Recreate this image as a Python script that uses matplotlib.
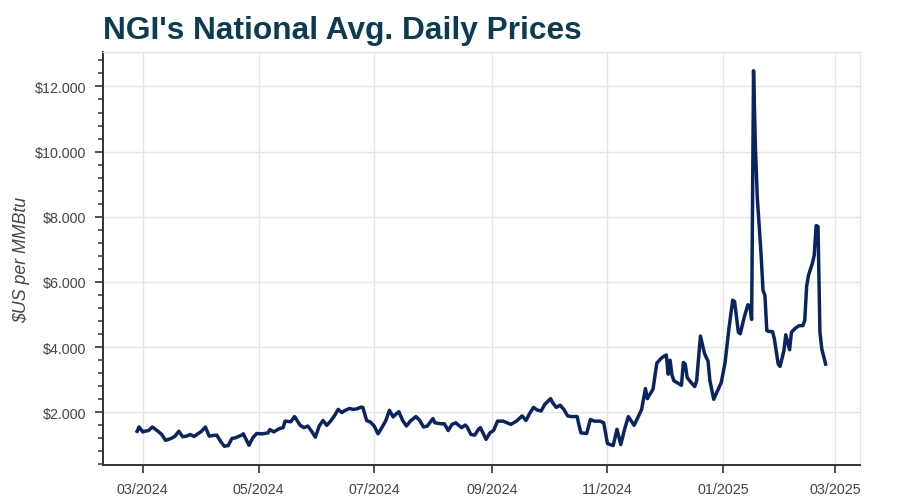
import matplotlib
matplotlib.use("Agg")
import matplotlib.pyplot as plt
import matplotlib.dates as mdates
from matplotlib.ticker import MultipleLocator, FuncFormatter
import pandas as pd

# daily national average
dates = [
    "2024-02-27", "2024-02-28", "2024-03-01", "2024-03-02", "2024-03-04", "2024-03-06",
    "2024-03-09", "2024-03-11", "2024-03-13", "2024-03-16", "2024-03-18", "2024-03-20",
    "2024-03-22", "2024-03-24", "2024-03-26", "2024-03-28", "2024-03-30", "2024-04-01",
    "2024-04-03", "2024-04-05", "2024-04-07", "2024-04-09", "2024-04-11", "2024-04-13",
    "2024-04-15", "2024-04-17", "2024-04-19", "2024-04-22", "2024-04-23", "2024-04-26",
    "2024-04-28", "2024-04-30", "2024-05-03", "2024-05-06", "2024-05-07", "2024-05-09",
    "2024-05-12", "2024-05-14", "2024-05-15", "2024-05-18", "2024-05-20", "2024-05-21",
    "2024-05-23", "2024-05-25", "2024-05-27", "2024-05-29", "2024-05-31", "2024-06-02",
    "2024-06-04", "2024-06-06", "2024-06-08", "2024-06-10", "2024-06-12", "2024-06-14",
    "2024-06-15", "2024-06-18", "2024-06-20", "2024-06-22", "2024-06-24", "2024-06-25",
    "2024-06-27", "2024-06-29", "2024-07-01", "2024-07-03", "2024-07-05", "2024-07-07",
    "2024-07-09", "2024-07-11", "2024-07-12", "2024-07-14", "2024-07-16", "2024-07-18",
    "2024-07-20", "2024-07-23", "2024-07-25", "2024-07-27", "2024-07-29", "2024-08-01",
    "2024-08-02", "2024-08-05", "2024-08-07", "2024-08-09", "2024-08-11", "2024-08-13",
    "2024-08-16", "2024-08-18", "2024-08-19", "2024-08-21", "2024-08-23", "2024-08-25",
    "2024-08-26", "2024-08-29", "2024-08-31", "2024-09-02", "2024-09-04", "2024-09-07",
    "2024-09-09", "2024-09-11", "2024-09-14", "2024-09-17", "2024-09-19", "2024-09-21",
    "2024-09-23", "2024-09-25", "2024-09-27", "2024-09-29", "2024-10-02", "2024-10-03",
    "2024-10-05", "2024-10-07", "2024-10-09", "2024-10-11", "2024-10-13", "2024-10-16",
    "2024-10-17", "2024-10-18", "2024-10-21", "2024-10-23", "2024-10-25", "2024-10-27",
    "2024-10-28", "2024-10-30", "2024-11-01", "2024-11-04", "2024-11-06", "2024-11-08",
    "2024-11-10", "2024-11-12", "2024-11-15", "2024-11-17", "2024-11-19", "2024-11-21",
    "2024-11-22", "2024-11-25", "2024-11-27", "2024-11-29", "2024-11-30", "2024-12-02",
    "2024-12-03", "2024-12-04", "2024-12-05", "2024-12-06", "2024-12-08", "2024-12-10",
    "2024-12-11", "2024-12-12", "2024-12-13", "2024-12-15", "2024-12-17", "2024-12-18",
    "2024-12-20", "2024-12-22", "2024-12-23", "2024-12-24", "2024-12-25", "2024-12-27",
    "2024-12-29", "2024-12-31", "2025-01-02", "2025-01-04", "2025-01-06", "2025-01-07",
    "2025-01-09", "2025-01-10", "2025-01-12", "2025-01-14", "2025-01-15", "2025-01-16",
    "2025-01-17", "2025-01-18", "2025-01-19", "2025-01-21", "2025-01-22", "2025-01-23",
    "2025-01-24", "2025-01-25", "2025-01-27", "2025-01-28", "2025-01-30", "2025-01-31",
    "2025-02-02", "2025-02-03", "2025-02-05", "2025-02-06", "2025-02-08", "2025-02-10",
    "2025-02-12", "2025-02-13", "2025-02-14", "2025-02-15", "2025-02-17", "2025-02-18",
    "2025-02-19", "2025-02-20", "2025-02-21", "2025-02-22", "2025-02-24",
]
prices = [
    1.42, 1.55, 1.40, 1.42, 1.44, 1.55,
    1.42, 1.32, 1.14, 1.20, 1.27, 1.42,
    1.25, 1.27, 1.32, 1.26, 1.34, 1.42,
    1.55, 1.27, 1.29, 1.30, 1.11, 0.96,
    0.98, 1.20, 1.22, 1.30, 1.34, 0.99,
    1.22, 1.35, 1.34, 1.37, 1.47, 1.40,
    1.50, 1.53, 1.73, 1.71, 1.87, 1.78,
    1.60, 1.53, 1.58, 1.42, 1.24, 1.58,
    1.75, 1.60, 1.73, 1.89, 2.09, 1.99,
    2.04, 2.12, 2.09, 2.11, 2.16, 2.15,
    1.75, 1.70, 1.58, 1.34, 1.53, 1.73,
    2.06, 1.86, 1.92, 2.02, 1.75, 1.58,
    1.73, 1.87, 1.75, 1.55, 1.58, 1.81,
    1.68, 1.65, 1.65, 1.44, 1.63, 1.68,
    1.53, 1.61, 1.55, 1.32, 1.30, 1.48,
    1.53, 1.17, 1.37, 1.45, 1.73, 1.73,
    1.68, 1.63, 1.73, 1.89, 1.75, 1.97,
    2.15, 2.07, 2.04, 2.25, 2.42, 2.30,
    2.15, 2.22, 2.09, 1.89, 1.87, 1.87,
    1.60, 1.37, 1.35, 1.78, 1.73, 1.73,
    1.73, 1.68, 1.04, 0.98, 1.48, 1.01,
    1.48, 1.87, 1.60, 1.84, 2.09, 2.73,
    2.42, 2.71, 3.51, 3.64, 3.69, 3.76,
    3.17, 3.60, 3.14, 2.97, 2.90, 2.83,
    3.53, 3.48, 3.07, 2.92, 2.79, 2.97,
    4.34, 3.84, 3.69, 3.58, 2.97, 2.40,
    2.66, 2.92, 3.53, 4.56, 5.44, 5.40,
    4.46, 4.41, 4.90, 5.30, 5.28, 4.85,
    12.48, 10.10, 8.57, 6.82, 5.74, 5.59,
    4.51, 4.48, 4.48, 4.25, 3.48, 3.41,
    3.89, 4.38, 3.92, 4.46, 4.58, 4.66,
    4.66, 4.82, 5.87, 6.21, 6.57, 6.82,
    7.73, 7.70, 4.46, 3.94, 3.48,
]

title = "NGI's National Avg. Daily Prices"
ylabel = "$US per MMBtu"

plt.rcParams['font.family'] = ['Liberation Sans', 'DejaVu Sans']

fig = plt.figure(figsize=(9, 5.02), dpi=100)
ax = fig.add_axes([0.1141, 0.0717, 0.8415, 0.8227])

x = pd.to_datetime(dates)
ax.plot(x, prices, color="#0b2461", lw=2.5, solid_joinstyle="round", zorder=3)
ax.margins(0.05)

ax.xaxis.set_major_locator(mdates.MonthLocator(bymonth=[1, 3, 5, 7, 9, 11]))
ax.xaxis.set_major_formatter(mdates.DateFormatter("%m/%Y"))
ax.yaxis.set_major_locator(MultipleLocator(2))
ax.yaxis.set_minor_locator(MultipleLocator(0.4))
ax.yaxis.set_major_formatter(FuncFormatter(lambda v, p: "${:.3f}".format(v)))

ax.grid(True, which="major", color="#e5e5e5", lw=1)
ax.set_axisbelow(True)

for s in ["top", "right"]:
    ax.spines[s].set_color("#e5e5e5")
    ax.spines[s].set_linewidth(1)
for s in ["left", "bottom"]:
    ax.spines[s].set_color("#333333")
    ax.spines[s].set_linewidth(1.4)

ax.tick_params(which="major", length=6, width=1.2, color="#333333",
               labelsize=10.3, labelcolor="#444444", pad=6)
ax.tick_params(axis="y", which="minor", length=3.5, width=1.1, color="#333333")

ax.set_ylabel(ylabel, fontsize=12.8, style="italic", color="#444444", labelpad=3)
ax.set_title(title, loc="left", fontsize=22.8, fontweight="bold", color="#0b3c52", pad=10)

fig.savefig("out.png", dpi=100)
